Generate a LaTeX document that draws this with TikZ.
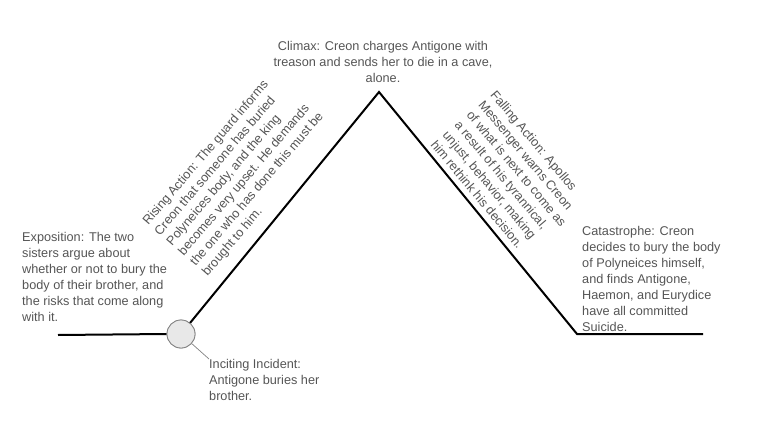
\documentclass[tikz,border=0pt]{standalone}
\usepackage{fontspec}
\setmainfont{Liberation Sans}
\definecolor{txtgray}{RGB}{85,85,85}
\definecolor{dotfill}{RGB}{232,232,232}
\definecolor{dotline}{RGB}{130,130,130}
\begin{document}
\begin{tikzpicture}[x=1pt, y=-1pt,
    plot/.style={line width=2pt, black},
    note/.style={inner sep=0pt, text=txtgray, font=\fontsize{12.7}{16}\selectfont},
    slant/.style={note, anchor=north west, align=left, font=\fontsize{12.7}{15.6}\selectfont},
    event/.style={draw=dotline, fill=dotfill, circle, minimum size=28pt, inner sep=0pt, line width=0.8pt}]
  \useasboundingbox (0,0) rectangle (768,433);
  \coordinate (start) at (58,335);
  \coordinate (peak) at (379,92);
  \coordinate (bottom) at (577,334);
  \coordinate (end) at (703,334);
  \node[event] (dot) at (181,334) {};
  \draw[plot] (start) -- (dot.west);
  \draw[plot] (dot) ++(9,-11) coordinate (dotne) (dotne) -- (peak) -- (bottom) -- (end);
  \node[note, anchor=north west, align=left] (expo) at (22,232) {Exposition: The two\\sisters argue about\\whether or not to bury the\\body of their brother, and\\the risks that come along\\with it.};
  \node[note, anchor=north west, align=left] (incite) at (209,359) {Inciting Incident:\\Antigone buries her\\brother.};
  \draw[dotline, line width=0.7pt] (dot) -- (incite.north west);
  \node[slant, rotate=49.5] (rise) at (141,220) {Rising Action: The guard informs\\Creon that someone has buried\\Polyneices body, and the king\\becomes very upset. He demands\\the one who has done this must be\\brought to him.};
  \node[note, anchor=north, align=center] (climax) at (383,41) {Climax: Creon charges Antigone with\\treason and sends her to die in a cave,\\alone.};
  \node[slant, rotate=-50] (fall) at (497,89) {Falling Action: Apollos\\Messenger warns Creon\\of what is next to come as\\a result of his tyrannical,\\unjust, behavior, making\\him rethink his decision.};
  \node[note, anchor=north west, align=left] (catas) at (582,226) {Catastrophe: Creon\\decides to bury the body\\of Polyneices himself,\\and finds Antigone,\\Haemon, and Eurydice\\have all committed\\Suicide.};
  \node[event] at (dot) {};
\end{tikzpicture}
\end{document}
